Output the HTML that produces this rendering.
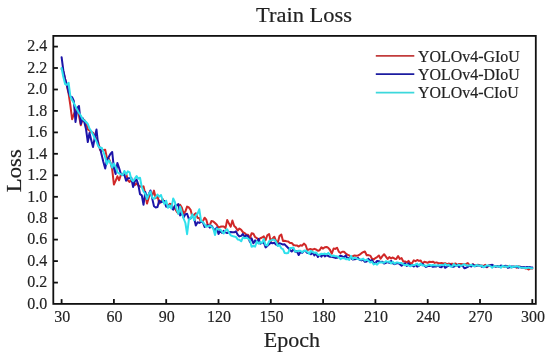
<!DOCTYPE html>
<html><head><meta charset="utf-8"><style>
html,body{margin:0;padding:0;background:#fff;}
svg{display:block;}
text{font-family:"Liberation Serif",serif;fill:#222;}
.b text,text.b{stroke:#222;stroke-width:0.2px;}
.t text{stroke:#222;stroke-width:0.15px;}
</style></head><body>
<svg width="550" height="357" viewBox="0 0 550 357">
<rect x="0" y="0" width="550" height="357" fill="#fff"/>
<text class="b" x="304" y="22.2" text-anchor="middle" font-size="22" textLength="96" lengthAdjust="spacingAndGlyphs">Train Loss</text>
<g fill="none" stroke-width="2.0" stroke-linejoin="round" stroke-linecap="round">
<path d="M61.6,69.0 L63.3,71.5 L65.1,79.1 L66.8,85.5 L68.6,93.6 L70.3,104.9 L72.1,119.2 L73.8,114.5 L75.5,110.7 L77.3,107.8 L79.0,115.9 L80.8,125.2 L82.5,119.4 L84.3,120.0 L86.0,122.6 L87.8,129.3 L89.5,130.4 L91.2,132.0 L93.0,132.6 L94.7,136.0 L96.5,139.1 L98.2,142.1 L100.0,149.7 L101.7,151.3 L103.4,150.0 L105.2,149.8 L106.9,157.9 L108.7,158.1 L110.4,162.3 L112.2,169.3 L113.9,184.5 L115.6,180.9 L117.4,176.3 L119.1,180.3 L120.9,174.9 L122.6,174.3 L124.4,173.7 L126.1,173.2 L127.8,180.3 L129.6,181.9 L131.3,179.5 L133.1,182.2 L134.8,185.1 L136.6,183.2 L138.3,185.7 L140.0,186.3 L141.8,187.0 L143.5,186.3 L145.3,194.5 L147.0,203.6 L148.8,197.5 L150.5,192.2 L152.3,195.3 L154.0,190.6 L155.7,198.2 L157.5,195.8 L159.2,203.5 L161.0,201.7 L162.7,199.1 L164.5,202.9 L166.2,205.1 L167.9,206.8 L169.7,203.8 L171.4,204.2 L173.2,208.7 L174.9,208.2 L176.7,211.6 L178.4,213.6 L180.1,204.7 L181.9,207.8 L183.6,213.7 L185.4,211.4 L187.1,206.6 L188.9,207.5 L190.6,209.8 L192.3,216.7 L194.1,214.8 L195.8,213.2 L197.6,218.0 L199.3,218.0 L201.1,222.0 L202.8,221.4 L204.6,217.7 L206.3,219.7 L208.0,225.7 L209.8,225.2 L211.5,221.0 L213.3,221.4 L215.0,223.0 L216.8,224.8 L218.5,227.5 L220.2,226.8 L222.0,226.4 L223.7,226.4 L225.5,228.1 L227.2,219.9 L229.0,223.6 L230.7,226.7 L232.4,220.5 L234.2,226.0 L235.9,227.6 L237.7,230.5 L239.4,228.5 L241.2,229.8 L242.9,232.2 L244.6,233.1 L246.4,234.8 L248.1,234.8 L249.9,238.4 L251.6,233.2 L253.4,233.8 L255.1,237.0 L256.9,238.2 L258.6,240.2 L260.3,238.2 L262.1,237.5 L263.8,236.4 L265.6,240.3 L267.3,235.3 L269.1,234.0 L270.8,241.6 L272.5,238.6 L274.3,236.7 L276.0,240.9 L277.8,242.6 L279.5,236.1 L281.3,234.5 L283.0,241.0 L284.7,240.8 L286.5,241.3 L288.2,241.5 L290.0,243.0 L291.7,242.9 L293.5,245.0 L295.2,245.4 L296.9,245.4 L298.7,246.6 L300.4,245.2 L302.2,245.7 L303.9,243.6 L305.7,245.2 L307.4,250.2 L309.2,249.3 L310.9,249.1 L312.6,249.7 L314.4,248.8 L316.1,249.5 L317.9,250.8 L319.6,250.2 L321.4,247.3 L323.1,248.6 L324.8,247.2 L326.6,246.9 L328.3,247.9 L330.1,250.0 L331.8,253.8 L333.6,248.5 L335.3,248.9 L337.0,247.7 L338.8,251.7 L340.5,253.0 L342.3,251.7 L344.0,251.8 L345.8,253.5 L347.5,254.8 L349.2,255.4 L351.0,257.5 L352.7,256.2 L354.5,255.5 L356.2,255.8 L358.0,255.5 L359.7,254.6 L361.5,253.2 L363.2,252.2 L364.9,251.5 L366.7,255.3 L368.4,255.1 L370.2,255.6 L371.9,258.6 L373.7,259.5 L375.4,258.1 L377.1,257.1 L378.9,255.5 L380.6,258.7 L382.4,256.1 L384.1,254.2 L385.9,256.6 L387.6,259.0 L389.3,257.1 L391.1,258.4 L392.8,257.5 L394.6,258.7 L396.3,258.9 L398.1,256.0 L399.8,258.9 L401.6,258.1 L403.3,261.5 L405.0,261.5 L406.8,262.4 L408.5,260.9 L410.3,263.3 L412.0,263.3 L413.8,260.3 L415.5,261.2 L417.2,260.0 L419.0,260.9 L420.7,260.5 L422.5,263.8 L424.2,261.8 L426.0,262.3 L427.7,262.8 L429.4,261.7 L431.2,261.9 L432.9,261.7 L434.7,262.9 L436.4,262.4 L438.2,263.0 L439.9,263.2 L441.6,263.1 L443.4,263.4 L445.1,263.2 L446.9,264.2 L448.6,263.6 L450.4,263.9 L452.1,263.7 L453.8,264.0 L455.6,263.6 L457.3,265.2 L459.1,263.9 L460.8,263.9 L462.6,264.3 L464.3,264.2 L466.1,263.9 L467.8,263.1 L469.5,265.2 L471.3,265.3 L473.0,264.2 L474.8,265.9 L476.5,265.0 L478.3,264.8 L480.0,265.7 L481.7,265.6 L483.5,266.0 L485.2,264.8 L487.0,267.3 L488.7,265.7 L490.5,265.1 L492.2,266.7 L493.9,266.0 L495.7,266.5 L497.4,266.1 L499.2,266.3 L500.9,266.6 L502.7,266.0 L504.4,266.9 L506.1,266.3 L507.9,266.1 L509.6,266.9 L511.4,267.2 L513.1,266.9 L514.9,266.6 L516.6,267.7 L518.4,266.3 L520.1,266.9 L521.8,267.8 L523.6,267.2 L525.3,268.4 L527.1,268.6 L528.8,269.5 L530.6,268.4 L532.3,268.6" stroke="#d02828"/>
<path d="M61.6,57.2 L63.3,70.2 L65.1,79.0 L66.8,84.4 L68.6,92.4 L70.3,96.5 L72.1,97.1 L73.8,101.0 L75.5,122.0 L77.3,108.0 L79.0,106.0 L80.8,124.0 L82.5,118.0 L84.3,122.0 L86.0,129.0 L87.8,142.0 L89.5,133.0 L91.2,140.0 L93.0,147.0 L94.7,138.0 L96.5,129.5 L98.2,145.0 L100.0,148.0 L101.7,155.0 L103.4,162.0 L105.2,168.5 L106.9,160.0 L108.7,157.0 L110.4,154.0 L112.2,152.0 L113.9,168.0 L115.6,174.0 L117.4,163.0 L119.1,168.0 L120.9,174.0 L122.6,175.1 L124.4,175.0 L126.1,180.8 L127.8,178.3 L129.6,178.3 L131.3,177.7 L133.1,187.0 L134.8,181.3 L136.6,179.6 L138.3,184.6 L140.0,194.2 L141.8,195.4 L143.5,204.8 L145.3,192.1 L147.0,197.7 L148.8,194.2 L150.5,190.5 L152.3,198.9 L154.0,206.3 L155.7,207.5 L157.5,207.0 L159.2,200.5 L161.0,202.3 L162.7,201.5 L164.5,201.1 L166.2,206.7 L167.9,205.6 L169.7,206.6 L171.4,207.2 L173.2,209.7 L174.9,205.6 L176.7,205.4 L178.4,204.1 L180.1,215.4 L181.9,213.0 L183.6,217.6 L185.4,214.1 L187.1,213.7 L188.9,219.1 L190.6,218.5 L192.3,216.2 L194.1,218.0 L195.8,225.6 L197.6,222.3 L199.3,222.9 L201.1,221.9 L202.8,221.9 L204.6,227.0 L206.3,225.6 L208.0,225.2 L209.8,227.6 L211.5,225.8 L213.3,228.4 L215.0,230.6 L216.8,227.5 L218.5,234.0 L220.2,230.8 L222.0,232.9 L223.7,230.9 L225.5,232.4 L227.2,233.0 L229.0,232.3 L230.7,232.0 L232.4,232.3 L234.2,232.3 L235.9,231.4 L237.7,234.8 L239.4,236.4 L241.2,235.9 L242.9,234.0 L244.6,236.9 L246.4,235.3 L248.1,236.1 L249.9,241.9 L251.6,238.4 L253.4,243.3 L255.1,240.4 L256.9,242.6 L258.6,238.8 L260.3,243.6 L262.1,242.8 L263.8,242.3 L265.6,247.4 L267.3,245.9 L269.1,244.3 L270.8,242.7 L272.5,243.3 L274.3,242.8 L276.0,244.6 L277.8,245.1 L279.5,243.3 L281.3,243.9 L283.0,244.6 L284.7,244.3 L286.5,246.3 L288.2,248.0 L290.0,249.9 L291.7,251.5 L293.5,249.3 L295.2,251.8 L296.9,251.2 L298.7,255.0 L300.4,252.1 L302.2,252.8 L303.9,250.8 L305.7,251.2 L307.4,253.0 L309.2,252.8 L310.9,254.3 L312.6,252.5 L314.4,255.4 L316.1,253.6 L317.9,257.0 L319.6,254.7 L321.4,256.7 L323.1,254.0 L324.8,256.5 L326.6,255.2 L328.3,256.0 L330.1,256.8 L331.8,256.7 L333.6,257.4 L335.3,257.9 L337.0,257.8 L338.8,256.9 L340.5,255.6 L342.3,256.4 L344.0,257.3 L345.8,255.4 L347.5,258.7 L349.2,257.8 L351.0,258.0 L352.7,259.4 L354.5,259.3 L356.2,259.0 L358.0,257.9 L359.7,259.8 L361.5,260.4 L363.2,259.6 L364.9,261.8 L366.7,261.4 L368.4,258.9 L370.2,261.2 L371.9,260.1 L373.7,262.9 L375.4,263.0 L377.1,261.0 L378.9,261.2 L380.6,262.1 L382.4,261.8 L384.1,263.6 L385.9,262.8 L387.6,261.9 L389.3,262.9 L391.1,260.8 L392.8,263.3 L394.6,264.2 L396.3,263.4 L398.1,263.0 L399.8,264.3 L401.6,265.7 L403.3,264.2 L405.0,263.4 L406.8,266.0 L408.5,263.3 L410.3,265.7 L412.0,265.1 L413.8,266.4 L415.5,264.8 L417.2,266.7 L419.0,265.8 L420.7,264.1 L422.5,264.0 L424.2,265.5 L426.0,266.9 L427.7,266.0 L429.4,266.0 L431.2,265.9 L432.9,266.8 L434.7,266.6 L436.4,266.5 L438.2,265.4 L439.9,267.1 L441.6,267.2 L443.4,265.0 L445.1,267.8 L446.9,266.6 L448.6,265.7 L450.4,264.7 L452.1,266.7 L453.8,266.7 L455.6,265.8 L457.3,264.9 L459.1,267.1 L460.8,265.7 L462.6,265.8 L464.3,268.3 L466.1,267.7 L467.8,266.8 L469.5,265.7 L471.3,266.5 L473.0,264.5 L474.8,266.3 L476.5,265.8 L478.3,265.5 L480.0,265.4 L481.7,266.8 L483.5,266.4 L485.2,266.4 L487.0,266.8 L488.7,265.5 L490.5,265.2 L492.2,264.8 L493.9,265.8 L495.7,266.7 L497.4,266.1 L499.2,266.7 L500.9,265.5 L502.7,266.1 L504.4,266.0 L506.1,265.8 L507.9,267.9 L509.6,267.4 L511.4,266.4 L513.1,266.5 L514.9,267.1 L516.6,266.4 L518.4,267.7 L520.1,266.7 L521.8,267.3 L523.6,267.0 L525.3,267.4 L527.1,267.0 L528.8,266.9 L530.6,267.3 L532.3,267.6" stroke="#1c14a8"/>
<path d="M61.6,68.0 L63.3,76.7 L65.1,84.0 L66.8,84.8 L68.6,82.8 L70.3,96.0 L72.1,100.0 L73.8,103.0 L75.5,106.5 L77.3,110.0 L79.0,113.0 L80.8,115.5 L82.5,119.0 L84.3,120.5 L86.0,122.0 L87.8,124.0 L89.5,128.5 L91.2,131.0 L93.0,134.5 L94.7,138.0 L96.5,141.5 L98.2,146.0 L100.0,148.0 L101.7,147.7 L103.4,151.8 L105.2,157.2 L106.9,164.2 L108.7,160.2 L110.4,162.6 L112.2,167.6 L113.9,163.5 L115.6,166.8 L117.4,172.3 L119.1,173.5 L120.9,174.1 L122.6,175.1 L124.4,171.0 L126.1,174.3 L127.8,171.4 L129.6,172.3 L131.3,179.4 L133.1,181.3 L134.8,178.6 L136.6,176.1 L138.3,178.7 L140.0,177.7 L141.8,187.2 L143.5,191.5 L145.3,193.9 L147.0,199.0 L148.8,194.1 L150.5,191.6 L152.3,197.6 L154.0,198.9 L155.7,197.0 L157.5,194.5 L159.2,196.7 L161.0,195.0 L162.7,200.3 L164.5,204.1 L166.2,200.7 L167.9,207.8 L169.7,205.3 L171.4,208.4 L173.2,198.5 L174.9,201.9 L176.7,209.5 L178.4,213.9 L180.1,206.7 L181.9,212.7 L183.6,218.5 L185.4,223.0 L187.1,234.2 L188.9,219.5 L190.6,218.7 L192.3,214.3 L194.1,220.1 L195.8,215.5 L197.6,213.5 L199.3,209.3 L201.1,221.2 L202.8,221.8 L204.6,224.4 L206.3,226.8 L208.0,226.3 L209.8,225.4 L211.5,226.7 L213.3,228.4 L215.0,235.1 L216.8,228.5 L218.5,229.5 L220.2,229.4 L222.0,231.7 L223.7,233.5 L225.5,230.3 L227.2,229.2 L229.0,232.6 L230.7,235.3 L232.4,236.0 L234.2,236.6 L235.9,236.9 L237.7,239.4 L239.4,239.7 L241.2,241.3 L242.9,237.3 L244.6,238.2 L246.4,237.7 L248.1,238.7 L249.9,240.0 L251.6,246.7 L253.4,246.0 L255.1,246.6 L256.9,241.4 L258.6,243.7 L260.3,242.1 L262.1,242.9 L263.8,239.0 L265.6,245.1 L267.3,245.4 L269.1,241.2 L270.8,240.6 L272.5,239.7 L274.3,239.8 L276.0,241.6 L277.8,246.0 L279.5,245.1 L281.3,248.3 L283.0,249.1 L284.7,253.0 L286.5,253.2 L288.2,252.9 L290.0,248.1 L291.7,248.0 L293.5,247.6 L295.2,251.6 L296.9,251.3 L298.7,250.7 L300.4,250.8 L302.2,252.2 L303.9,250.9 L305.7,250.6 L307.4,251.9 L309.2,253.9 L310.9,250.9 L312.6,252.0 L314.4,252.7 L316.1,252.5 L317.9,254.7 L319.6,254.9 L321.4,253.7 L323.1,253.9 L324.8,253.6 L326.6,254.3 L328.3,252.9 L330.1,254.8 L331.8,256.1 L333.6,255.5 L335.3,256.3 L337.0,256.3 L338.8,257.3 L340.5,259.1 L342.3,258.0 L344.0,258.2 L345.8,259.2 L347.5,258.9 L349.2,260.0 L351.0,255.8 L352.7,259.0 L354.5,257.6 L356.2,258.3 L358.0,259.1 L359.7,259.5 L361.5,259.5 L363.2,258.6 L364.9,260.7 L366.7,259.6 L368.4,260.6 L370.2,262.5 L371.9,261.7 L373.7,264.5 L375.4,263.5 L377.1,264.7 L378.9,262.6 L380.6,262.2 L382.4,262.5 L384.1,262.8 L385.9,261.3 L387.6,261.9 L389.3,261.5 L391.1,263.5 L392.8,261.7 L394.6,263.7 L396.3,262.5 L398.1,262.6 L399.8,263.1 L401.6,262.9 L403.3,264.3 L405.0,265.3 L406.8,264.7 L408.5,265.4 L410.3,266.3 L412.0,265.2 L413.8,265.1 L415.5,264.7 L417.2,263.6 L419.0,265.6 L420.7,263.5 L422.5,265.6 L424.2,265.1 L426.0,266.1 L427.7,265.2 L429.4,264.6 L431.2,265.7 L432.9,265.0 L434.7,265.3 L436.4,265.6 L438.2,265.5 L439.9,265.4 L441.6,264.9 L443.4,265.4 L445.1,263.9 L446.9,265.5 L448.6,264.7 L450.4,266.5 L452.1,266.6 L453.8,264.1 L455.6,265.7 L457.3,265.5 L459.1,264.8 L460.8,266.0 L462.6,265.2 L464.3,264.2 L466.1,265.3 L467.8,265.4 L469.5,265.6 L471.3,264.7 L473.0,266.1 L474.8,266.3 L476.5,265.0 L478.3,265.4 L480.0,265.9 L481.7,265.6 L483.5,267.3 L485.2,266.2 L487.0,265.4 L488.7,265.6 L490.5,266.1 L492.2,267.8 L493.9,266.1 L495.7,266.3 L497.4,266.5 L499.2,266.2 L500.9,267.7 L502.7,265.8 L504.4,266.7 L506.1,266.4 L507.9,266.8 L509.6,265.7 L511.4,267.7 L513.1,266.6 L514.9,266.7 L516.6,266.2 L518.4,266.5 L520.1,267.4 L521.8,267.7 L523.6,267.7 L525.3,268.1 L527.1,267.9 L528.8,267.6 L530.6,268.2 L532.3,268.2" stroke="#2ee0ec"/>
</g>
<g stroke="#111" stroke-width="1.8" fill="none">
<rect x="53.3" y="35.9" width="482.5" height="268"/>
<line x1="61.6" y1="303.9" x2="61.6" y2="299.1"/>
<line x1="113.9" y1="303.9" x2="113.9" y2="299.1"/>
<line x1="166.2" y1="303.9" x2="166.2" y2="299.1"/>
<line x1="218.5" y1="303.9" x2="218.5" y2="299.1"/>
<line x1="270.8" y1="303.9" x2="270.8" y2="299.1"/>
<line x1="323.1" y1="303.9" x2="323.1" y2="299.1"/>
<line x1="375.4" y1="303.9" x2="375.4" y2="299.1"/>
<line x1="427.7" y1="303.9" x2="427.7" y2="299.1"/>
<line x1="480.0" y1="303.9" x2="480.0" y2="299.1"/>
<line x1="532.3" y1="303.9" x2="532.3" y2="299.1"/>
<line x1="53.4" y1="282.6" x2="57.9" y2="282.6"/>
<line x1="53.4" y1="261.1" x2="57.9" y2="261.1"/>
<line x1="53.4" y1="239.6" x2="57.9" y2="239.6"/>
<line x1="53.4" y1="218.2" x2="57.9" y2="218.2"/>
<line x1="53.4" y1="196.8" x2="57.9" y2="196.8"/>
<line x1="53.4" y1="175.3" x2="57.9" y2="175.3"/>
<line x1="53.4" y1="153.8" x2="57.9" y2="153.8"/>
<line x1="53.4" y1="132.4" x2="57.9" y2="132.4"/>
<line x1="53.4" y1="110.9" x2="57.9" y2="110.9"/>
<line x1="53.4" y1="89.5" x2="57.9" y2="89.5"/>
<line x1="53.4" y1="68.0" x2="57.9" y2="68.0"/>
<line x1="53.4" y1="46.6" x2="57.9" y2="46.6"/>
</g>
<g font-size="16" class="t">
<text x="62.2" y="321.7" text-anchor="middle">30</text>
<text x="114.5" y="321.7" text-anchor="middle">60</text>
<text x="166.8" y="321.7" text-anchor="middle">90</text>
<text x="219.1" y="321.7" text-anchor="middle">120</text>
<text x="271.4" y="321.7" text-anchor="middle">150</text>
<text x="323.7" y="321.7" text-anchor="middle">180</text>
<text x="376.0" y="321.7" text-anchor="middle">210</text>
<text x="428.3" y="321.7" text-anchor="middle">240</text>
<text x="480.6" y="321.7" text-anchor="middle">270</text>
<text x="532.9" y="321.7" text-anchor="middle">300</text>
<text x="47.3" y="308.8" text-anchor="end">0.0</text>
<text x="47.3" y="287.4" text-anchor="end">0.2</text>
<text x="47.3" y="265.9" text-anchor="end">0.4</text>
<text x="47.3" y="244.4" text-anchor="end">0.6</text>
<text x="47.3" y="223.0" text-anchor="end">0.8</text>
<text x="47.3" y="201.6" text-anchor="end">1.0</text>
<text x="47.3" y="180.1" text-anchor="end">1.2</text>
<text x="47.3" y="158.7" text-anchor="end">1.4</text>
<text x="47.3" y="137.2" text-anchor="end">1.6</text>
<text x="47.3" y="115.7" text-anchor="end">1.8</text>
<text x="47.3" y="94.3" text-anchor="end">2.0</text>
<text x="47.3" y="72.8" text-anchor="end">2.2</text>
<text x="47.3" y="51.4" text-anchor="end">2.4</text>
</g>
<text class="b" x="291.8" y="347" text-anchor="middle" font-size="22">Epoch</text>
<text class="b" transform="translate(21,170.7) rotate(-90)" text-anchor="middle" font-size="22" textLength="43" lengthAdjust="spacingAndGlyphs">Loss</text>
<g stroke-width="1.7" fill="none">
<line x1="375.8" y1="55.9" x2="414.3" y2="55.9" stroke="#c23c3c"/>
<line x1="375.8" y1="74.1" x2="414.3" y2="74.1" stroke="#1c1ca0"/>
<line x1="375.8" y1="92.6" x2="414.3" y2="92.6" stroke="#3cd8dc"/>
</g>
<g font-size="17.3" class="b">
<text x="418.0" y="61.5" textLength="101.8" lengthAdjust="spacingAndGlyphs">YOLOv4-GIoU</text>
<text x="418.0" y="79.8" textLength="101.8" lengthAdjust="spacingAndGlyphs">YOLOv4-DIoU</text>
<text x="418.0" y="98.0" textLength="100.8" lengthAdjust="spacingAndGlyphs">YOLOv4-CIoU</text>
</g>
</svg>
</body></html>
